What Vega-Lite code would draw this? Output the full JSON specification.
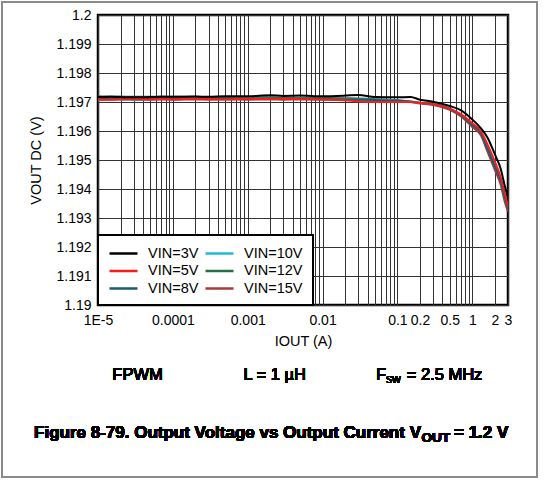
{
  "$schema": "https://vega.github.io/schema/vega-lite/v6.json",
  "autosize": {"type": "none"},
  "width": 410,
  "height": 290,
  "padding": {"left": 98, "top": 15, "right": 38, "bottom": 175},
  "background": "white",
  "data": {
    "values": [
      {"i": 0.00001, "s3": 1.19717, "s5": 1.19709, "s8": 1.19711, "s10": 1.19711, "s12": 1.19720, "s15": 1.19708},
      {"i": 0.000015, "s3": 1.19718, "s5": 1.19708, "s8": 1.19712, "s10": 1.19710, "s12": 1.19719, "s15": 1.19709},
      {"i": 0.00002, "s3": 1.19717, "s5": 1.19709, "s8": 1.19711, "s10": 1.19709, "s12": 1.19719, "s15": 1.19710},
      {"i": 0.00003, "s3": 1.19716, "s5": 1.19711, "s8": 1.19710, "s10": 1.19709, "s12": 1.19718, "s15": 1.19707},
      {"i": 0.00005, "s3": 1.19717, "s5": 1.19709, "s8": 1.19710, "s10": 1.19710, "s12": 1.19718, "s15": 1.19708},
      {"i": 0.00007, "s3": 1.19718, "s5": 1.19710, "s8": 1.19711, "s10": 1.19711, "s12": 1.19719, "s15": 1.19709},
      {"i": 0.0001, "s3": 1.19718, "s5": 1.19709, "s8": 1.19710, "s10": 1.19710, "s12": 1.19718, "s15": 1.19708},
      {"i": 0.0002, "s3": 1.19719, "s5": 1.19711, "s8": 1.19711, "s10": 1.19711, "s12": 1.19718, "s15": 1.19709},
      {"i": 0.0003, "s3": 1.19718, "s5": 1.19710, "s8": 1.19710, "s10": 1.19710, "s12": 1.19717, "s15": 1.19708},
      {"i": 0.0005, "s3": 1.19720, "s5": 1.19709, "s8": 1.19711, "s10": 1.19710, "s12": 1.19717, "s15": 1.19709},
      {"i": 0.001, "s3": 1.19720, "s5": 1.19711, "s8": 1.19710, "s10": 1.19711, "s12": 1.19716, "s15": 1.19708},
      {"i": 0.002, "s3": 1.19723, "s5": 1.19710, "s8": 1.19711, "s10": 1.19711, "s12": 1.19716, "s15": 1.19709},
      {"i": 0.003, "s3": 1.19721, "s5": 1.19711, "s8": 1.19710, "s10": 1.19710, "s12": 1.19715, "s15": 1.19708},
      {"i": 0.005, "s3": 1.19722, "s5": 1.19710, "s8": 1.19710, "s10": 1.19711, "s12": 1.19715, "s15": 1.19709},
      {"i": 0.01, "s3": 1.19720, "s5": 1.19709, "s8": 1.19710, "s10": 1.19710, "s12": 1.19714, "s15": 1.19708},
      {"i": 0.02, "s3": 1.19722, "s5": 1.19706, "s8": 1.19709, "s10": 1.19709, "s12": 1.19713, "s15": 1.19707},
      {"i": 0.03, "s3": 1.19724, "s5": 1.19702, "s8": 1.19709, "s10": 1.19709, "s12": 1.19712, "s15": 1.19707},
      {"i": 0.05, "s3": 1.19717, "s5": 1.19700, "s8": 1.19707, "s10": 1.19708, "s12": 1.19710, "s15": 1.19705},
      {"i": 0.1, "s3": 1.19716, "s5": 1.19700, "s8": 1.19705, "s10": 1.19705, "s12": 1.19706, "s15": 1.19703},
      {"i": 0.15, "s3": 1.19717, "s5": 1.19700, "s8": 1.19701, "s10": 1.19701, "s12": 1.19702, "s15": 1.19700},
      {"i": 0.2, "s3": 1.19708, "s5": 1.19697, "s8": 1.19697, "s10": 1.19697, "s12": 1.19697, "s15": 1.19695},
      {"i": 0.3, "s3": 1.19701, "s5": 1.19692, "s8": 1.19692, "s10": 1.19693, "s12": 1.19692, "s15": 1.19690},
      {"i": 0.5, "s3": 1.19686, "s5": 1.19677, "s8": 1.19676, "s10": 1.19677, "s12": 1.19676, "s15": 1.19673},
      {"i": 0.7, "s3": 1.19672, "s5": 1.19658, "s8": 1.19655, "s10": 1.19656, "s12": 1.19655, "s15": 1.19651},
      {"i": 1.0, "s3": 1.19640, "s5": 1.19627, "s8": 1.19621, "s10": 1.19622, "s12": 1.19620, "s15": 1.19614},
      {"i": 1.3, "s3": 1.19610, "s5": 1.19600, "s8": 1.19593, "s10": 1.19594, "s12": 1.19592, "s15": 1.19585},
      {"i": 1.6, "s3": 1.19577, "s5": 1.19553, "s8": 1.19538, "s10": 1.19540, "s12": 1.19537, "s15": 1.19528},
      {"i": 2.0, "s3": 1.19520, "s5": 1.19495, "s8": 1.19479, "s10": 1.19481, "s12": 1.19477, "s15": 1.19466},
      {"i": 2.4, "s3": 1.19469, "s5": 1.19440, "s8": 1.19428, "s10": 1.19430, "s12": 1.19426, "s15": 1.19414},
      {"i": 2.7, "s3": 1.19414, "s5": 1.19386, "s8": 1.19373, "s10": 1.19375, "s12": 1.19371, "s15": 1.19358},
      {"i": 3.0, "s3": 1.19369, "s5": 1.19340, "s8": 1.19334, "s10": 1.19336, "s12": 1.19332, "s15": 1.19322}
    ]
  },
  "layer": [
    {
      "mark": {"type": "rect", "fill": null, "stroke": "#8a8a8a", "strokeWidth": 1.5},
      "encoding": {
        "x": {"datum": 0.000000522, "type": "quantitative"},
        "x2": {"datum": 7.31},
        "y": {"datum": 1.200448, "type": "quantitative"},
        "y2": {"datum": 1.184069}
      }
    },
    {
      "transform": [
        {"fold": ["s15", "s12", "s10", "s8", "s5", "s3"], "as": ["series", "v"]}
      ],
      "mark": {"type": "line", "strokeWidth": 2, "interpolate": "monotone", "clip": true},
      "encoding": {
        "x": {
          "field": "i",
          "type": "quantitative",
          "scale": {"type": "log", "domain": [0.00001, 3], "nice": false},
          "axis": {
            "title": "IOUT (A)",
            "tickCount": 100,
            "values": [0.00001, 0.00002, 0.00003, 0.00004, 0.00005, 0.00006, 0.00007, 0.00008, 0.00009,
                       0.0001, 0.0002, 0.0003, 0.0004, 0.0005, 0.0006, 0.0007, 0.0008, 0.0009,
                       0.001, 0.002, 0.003, 0.004, 0.005, 0.006, 0.007, 0.008, 0.009,
                       0.01, 0.02, 0.03, 0.04, 0.05, 0.06, 0.07, 0.08, 0.09,
                       0.1, 0.2, 0.3, 0.4, 0.5, 0.6, 0.7, 0.8, 0.9,
                       1, 2, 3],
            "labelExpr": "indexof([0.00001, 0.0001, 0.001, 0.01, 0.1, 0.2, 0.5, 1, 2, 3], datum.value) >= 0 ? (datum.value == 0.00001 ? '1E-5' : format(datum.value, '~g')) : ''",
            "labelOverlap": false,
            "labelFlush": false,
            "labelBound": false,
            "labelPadding": 8,
            "titlePadding": 7
          }
        },
        "y": {
          "field": "v",
          "type": "quantitative",
          "scale": {"domain": [1.19, 1.2], "zero": false, "nice": false},
          "axis": {
            "title": "VOUT DC (V)",
            "tickCount": 100,
            "values": [1.19, 1.191, 1.192, 1.193, 1.194, 1.195, 1.196, 1.197, 1.198, 1.199, 1.2],
            "format": ".3~f",
            "labelOverlap": false,
            "labelPadding": 7,
            "titlePadding": 12
          }
        },
        "color": {
          "field": "series",
          "type": "nominal",
          "scale": {
            "domain": ["s3", "s5", "s8", "s10", "s12", "s15"],
            "range": ["#000000", "#ff1a1a", "#1d5a70", "#1fbad2", "#2a6e48", "#a83838"]
          },
          "legend": {
            "title": null,
            "labelExpr": "'VIN=' + slice(datum.label, 1) + 'V'",
            "orient": "bottom-left",
            "offset": 0,
            "columns": 2,
            "columnPadding": 1,
            "rowPadding": 2.5,
            "padding": 10,
            "fillColor": "white",
            "strokeColor": "black",
            "symbolType": "M-1,0H3",
            "symbolSize": 196,
            "symbolStrokeWidth": 2.5,
            "labelFont": "Liberation Sans",
            "labelFontSize": 14.5,
            "labelColor": "black",
            "labelOffset": 23
          }
        }
      }
    },
    {
      "mark": {"type": "text", "text": "FPWM", "align": "center", "baseline": "alphabetic", "font": "Liberation Sans", "fontSize": 16.5, "fontWeight": "normal", "color": "black"},
      "encoding": {"x": {"datum": 0.00003371, "type": "quantitative"}, "y": {"datum": 1.187414, "type": "quantitative"}}
    },
    {
      "mark": {"type": "text", "text": "L = 1 µH", "align": "center", "baseline": "alphabetic", "font": "Liberation Sans", "fontSize": 16.5, "fontWeight": "normal", "color": "black"},
      "encoding": {"x": {"datum": 0.002293, "type": "quantitative"}, "y": {"datum": 1.187414, "type": "quantitative"}}
    },
    {
      "mark": {"type": "text", "text": "F", "align": "left", "baseline": "alphabetic", "font": "Liberation Sans", "fontSize": 16.5, "fontWeight": "normal", "color": "black"},
      "encoding": {"x": {"datum": 0.0517, "type": "quantitative"}, "y": {"datum": 1.187414, "type": "quantitative"}}
    },
    {
      "mark": {"type": "text", "text": "sw", "align": "left", "baseline": "alphabetic", "font": "Liberation Sans", "fontSize": 12, "fontWeight": "normal", "color": "black"},
      "encoding": {"x": {"datum": 0.07036, "type": "quantitative"}, "y": {"datum": 1.1873, "type": "quantitative"}}
    },
    {
      "mark": {"type": "text", "text": "= 2.5 MHz", "align": "left", "baseline": "alphabetic", "font": "Liberation Sans", "fontSize": 16.5, "fontWeight": "normal", "color": "black"},
      "encoding": {"x": {"datum": 0.1329, "type": "quantitative"}, "y": {"datum": 1.187414, "type": "quantitative"}}
    },
    {
      "mark": {"type": "text", "text": "Figure 8-79. Output Voltage vs Output Current V", "align": "right", "baseline": "alphabetic", "font": "Liberation Sans", "fontSize": 17, "fontWeight": "bold", "color": "black"},
      "encoding": {"x": {"datum": 0.2064, "type": "quantitative"}, "y": {"datum": 1.185397, "type": "quantitative"}}
    },
    {
      "mark": {"type": "text", "text": "OUT", "align": "left", "baseline": "alphabetic", "font": "Liberation Sans", "fontSize": 13.5, "fontWeight": "bold", "color": "black"},
      "encoding": {"x": {"datum": 0.2095, "type": "quantitative"}, "y": {"datum": 1.185286, "type": "quantitative"}}
    },
    {
      "mark": {"type": "text", "text": "= 1.2 V", "align": "left", "baseline": "alphabetic", "font": "Liberation Sans", "fontSize": 17, "fontWeight": "bold", "color": "black"},
      "encoding": {"x": {"datum": 0.5695, "type": "quantitative"}, "y": {"datum": 1.185397, "type": "quantitative"}}
    }
  ],
  "config": {
    "view": {"stroke": "black", "strokeWidth": 2.5},
    "legend": {"strokeWidth": 2},
    "axis": {
      "domain": false,
      "ticks": false,
      "tickSize": 0,
      "grid": true,
      "gridColor": "#333333",
      "gridWidth": 1,
      "gridOpacity": 1,
      "labelFont": "Liberation Sans",
      "labelFontSize": 14,
      "labelColor": "black",
      "titleFont": "Liberation Sans",
      "titleFontSize": 14.5,
      "titleFontWeight": "normal",
      "titleColor": "black"
    }
  }
}
